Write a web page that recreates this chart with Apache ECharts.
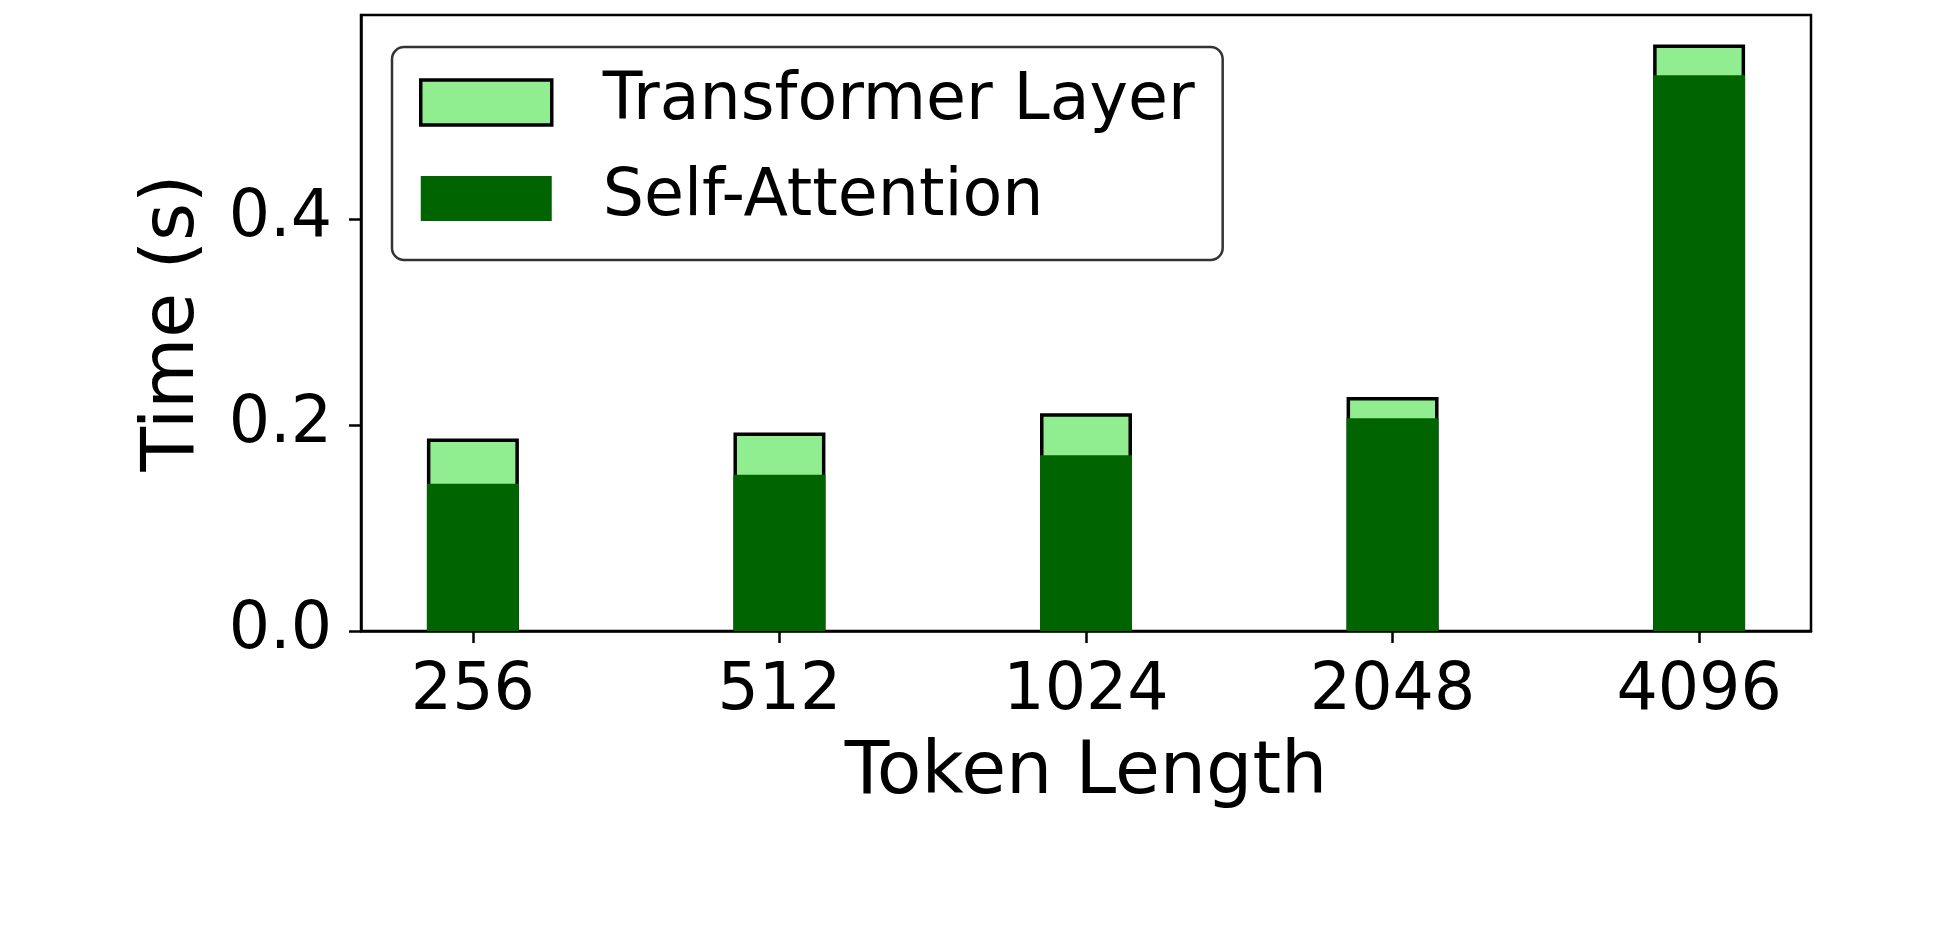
<!DOCTYPE html>
<html>
<head>
<meta charset="utf-8">
<script src="https://cdn.jsdelivr.net/npm/echarts@6/dist/echarts.min.js"></script>
<style>
  html, body { margin: 0; padding: 0; background: #fff; }
  #chart { width: 1960px; height: 928px; }
</style>
</head>
<body>
<div id="chart"></div>
<script>
const tokenLengths = ['256', '512', '1024', '2048', '4096'];
const transformerLayer = [0.1868, 0.1927, 0.2113, 0.2272, 0.5694];
const selfAttention = [0.1430, 0.1517, 0.1706, 0.2065, 0.5395];
const yTicks = [0, 0.2, 0.4];
const xTicks = tokenLengths.map((_, i) => i);

const FONT = 'DejaVu Sans';
const chart = echarts.init(document.getElementById('chart'), null, { renderer: 'canvas' });

const option = {
  animation: false,
  backgroundColor: '#fff',
  grid: {
    left: 361, right: 149, top: 15, bottom: 297,
    show: true, borderColor: '#000', borderWidth: 2.5, backgroundColor: 'transparent'
  },
  legend: {
    orient: 'vertical',
    left: 392, top: 47,
    icon: 'rect',
    itemWidth: 131, itemHeight: 45, itemGap: 31,
    padding: [23, 28, 29, 27],
    borderColor: '#333', borderWidth: 2.5, borderRadius: 12,
    backgroundColor: '#fff',
    textStyle: { fontFamily: FONT, fontSize: 65, color: '#000', lineHeight: 65, padding: [0, 0, 0, 46] },
    data: [
      { name: 'Transformer Layer', itemStyle: { color: '#90EE90', borderColor: '#000', borderWidth: 3.5 } },
      { name: 'Self-Attention', itemStyle: { color: '#006400', borderWidth: 0 } }
    ]
  },
  xAxis: {
    type: 'value',
    min: -0.365, max: 4.365,
    name: 'Token Length', nameLocation: 'middle', nameGap: 107,
    nameTextStyle: { fontFamily: FONT, fontSize: 73, color: '#000', lineHeight: 73 },
    axisLine: { show: true, onZero: false, lineStyle: { color: '#000', width: 2.5 } },
    axisTick: { show: true, length: 12, lineStyle: { color: '#000', width: 2.5 }, customValues: xTicks },
    axisLabel: {
      fontFamily: FONT, fontSize: 65, color: '#000', margin: 29, lineHeight: 65,
      customValues: xTicks,
      formatter: v => tokenLengths[Math.round(v)]
    },
    splitLine: { show: false }
  },
  yAxis: {
    type: 'value',
    min: 0, max: 0.598,
    name: 'Time (s)', nameLocation: 'middle', nameGap: 150,
    nameTextStyle: { fontFamily: FONT, fontSize: 73, color: '#000', lineHeight: 73 },
    axisLine: { show: true, onZero: false, lineStyle: { color: '#000', width: 2.5 } },
    axisTick: { show: true, length: 12, lineStyle: { color: '#000', width: 2.5 }, customValues: yTicks },
    axisLabel: {
      fontFamily: FONT, fontSize: 65, color: '#000', margin: 29, lineHeight: 65,
      padding: [10, 0, 0, 0],
      customValues: yTicks,
      formatter: v => v.toFixed(1)
    },
    splitLine: { show: false }
  },
  series: [
    {
      name: 'Transformer Layer',
      type: 'bar',
      barWidth: '30%',
      barGap: '-100%',
      data: transformerLayer.map((v, i) => [i, v]),
      itemStyle: { color: '#90EE90', borderColor: '#000', borderWidth: 3.5 }
    },
    {
      name: 'Self-Attention',
      type: 'bar',
      barWidth: '30%',
      barGap: '-100%',
      data: selfAttention.map((v, i) => [i, v]),
      itemStyle: { color: '#006400', borderWidth: 0 }
    }
  ]
};
chart.setOption(option);
</script>
</body>
</html>
